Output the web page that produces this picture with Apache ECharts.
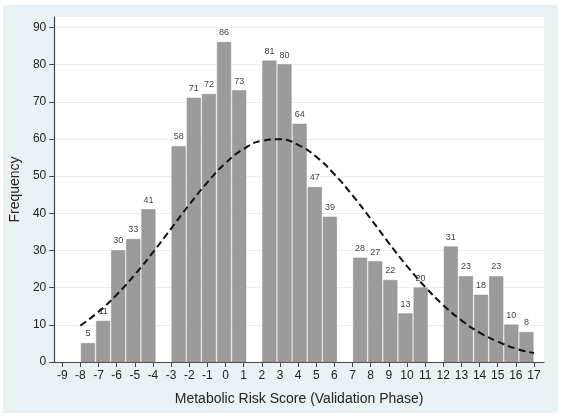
<!DOCTYPE html>
<html>
<head>
<meta charset="utf-8">
<script src="https://cdn.jsdelivr.net/npm/echarts@6/dist/echarts.min.js"></script>
<style>html,body{margin:0;padding:0;background:#fff;}#c{width:562px;height:418px;}</style>
</head>
<body>
<div id="c"></div>
<script>
// Histogram: 30 equal-width bins from -8 to 17
var binMin = -8;
var binMax = 17;
var counts = [5, 11, 30, 33, 41, 0, 58, 71, 72, 86, 73, 0, 81, 80, 64, 47, 39, 0, 28, 27, 22, 13, 20, 0, 31, 23, 18, 23, 10, 8];
// Fitted normal curve
var curveX = [-8, -7, -6, -5, -4, -3, -2, -1, 0, 1, 2, 3, 4, 5, 6, 7, 8, 9, 10, 11, 12, 13, 14, 15, 16, 17];
var curveY = [9.8, 13.5, 18.1, 23.5, 29.5, 35.9, 42.3, 48.3, 53.5, 57.3, 59.5, 59.9, 58.4, 55.2, 50.5, 44.8, 38.5, 32.0, 25.8, 20.2, 15.3, 11.2, 7.9, 5.5, 3.6, 2.4];
// Tick labels
var xTicks = [-9, -8, -7, -6, -5, -4, -3, -2, -1, 0, 1, 2, 3, 4, 5, 6, 7, 8, 9, 10, 11, 12, 13, 14, 15, 16, 17];
var yTicks = [0, 10, 20, 30, 40, 50, 60, 70, 80, 90];

var binW = (binMax - binMin) / counts.length;
var barData = counts.map(function (c, i) {
  return [binMin + i * binW, binMin + (i + 1) * binW, c];
});
var curveData = curveX.map(function (x, i) { return [x, curveY[i]]; });

var chart = echarts.init(document.getElementById('c'), null, {renderer: 'canvas'});
var font = 'Liberation Sans, Arial, sans-serif';
chart.setOption({
  animation: false,
  backgroundColor: '#ffffff',
  graphic: [{
    type: 'rect', z: -10, silent: true,
    shape: {x: 3, y: 5, width: 555, height: 408},
    style: {fill: '#eaf1f4'}
  }],
  grid: {left: 52, right: 18, top: 17, bottom: 56, show: true, backgroundColor: '#ffffff', borderWidth: 0},
  xAxis: {
    type: 'value', min: -9.44, max: 17.55,
    name: 'Metabolic Risk Score (Validation Phase)',
    nameLocation: 'middle', nameGap: 30,
    nameTextStyle: {fontFamily: font, fontSize: 14, color: '#222'},
    axisLine: {show: true, onZero: false, lineStyle: {color: '#444', width: 1.2}},
    axisTick: {show: true, length: 5, lineStyle: {color: '#444'}, customValues: xTicks},
    axisLabel: {customValues: xTicks, fontFamily: font, fontSize: 12, color: '#222', margin: 8},
    splitLine: {show: false}
  },
  yAxis: {
    type: 'value', min: 0, max: 92.8,
    name: 'Frequency', nameLocation: 'middle', nameGap: 29, nameRotate: 90,
    nameTextStyle: {fontFamily: font, fontSize: 14, color: '#222'},
    axisLine: {show: true, onZero: false, lineStyle: {color: '#444', width: 1.2}},
    axisTick: {show: true, length: 5, lineStyle: {color: '#444'}, customValues: yTicks},
    axisLabel: {customValues: yTicks, fontFamily: font, fontSize: 12, color: '#222', margin: 8},
    splitLine: {show: true, lineStyle: {color: '#eeeeee', width: 1}}
  },
  series: [{
    type: 'custom',
    data: barData,
    encode: {x: [0, 1], y: 2},
    renderItem: function (params, api) {
      var c = api.value(2);
      if (!c) return null;
      var p0 = api.coord([api.value(0), c]);
      var p1 = api.coord([api.value(1), 0]);
      var inset = 0.8;
      return {
        type: 'group',
        children: [{
          type: 'rect',
          shape: {x: p0[0] + inset, y: p0[1], width: p1[0] - p0[0] - 2 * inset, height: p1[1] - p0[1]},
          style: {fill: '#9b9b9b', stroke: '#8c8c8c', lineWidth: 0.5}
        }, {
          type: 'text',
          style: {
            text: String(c), x: (p0[0] + p1[0]) / 2, y: p0[1] - 5,
            align: 'center', verticalAlign: 'bottom',
            fontFamily: font, fontSize: 9, fill: '#444'
          }
        }]
      };
    },
    z: 2
  }, {
    type: 'line',
    data: curveData,
    smooth: true,
    showSymbol: false,
    lineStyle: {color: '#111', width: 2, type: [7, 4]},
    z: 3
  }]
});
</script>
</body>
</html>
